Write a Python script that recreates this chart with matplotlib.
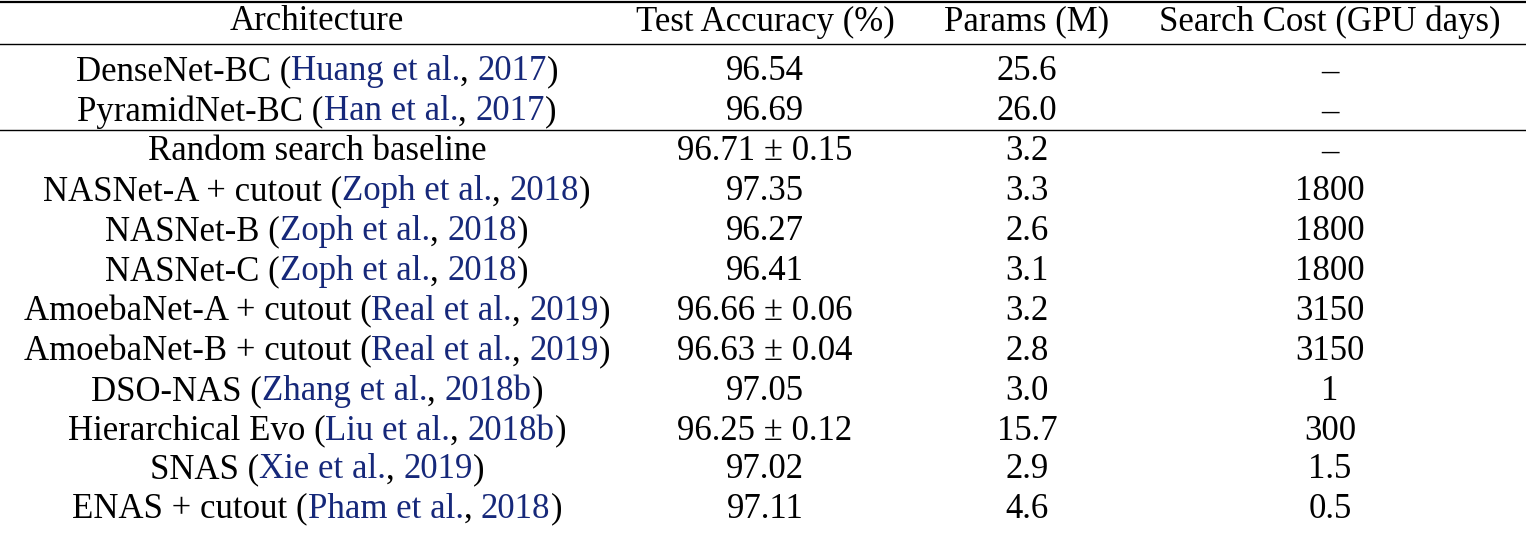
import matplotlib
matplotlib.use("Agg")
import matplotlib.pyplot as plt

headers = ["Architecture", "Test Accuracy (%)", "Params (M)", "Search Cost (GPU days)"]
arch_names = ["DenseNet-BC", "PyramidNet-BC", "Random search baseline", "NASNet-A + cutout",
              "NASNet-B", "NASNet-C", "AmoebaNet-A + cutout", "AmoebaNet-B + cutout",
              "DSO-NAS", "Hierarchical Evo", "SNAS", "ENAS + cutout"]
cite_authors = ["Huang et al.", "Han et al.", None, "Zoph et al.", "Zoph et al.", "Zoph et al.",
                "Real et al.", "Real et al.", "Zhang et al.", "Liu et al.", "Xie et al.", "Pham et al."]
cite_years = ["2017", "2017", None, "2018", "2018", "2018", "2019", "2019", "2018b", "2018b", "2019", "2018"]
accuracy = ["96.54", "96.69", "96.71 ± 0.15", "97.35", "96.27", "96.41", "96.66 ± 0.06",
            "96.63 ± 0.04", "97.05", "96.25 ± 0.12", "97.02", "97.11"]
params = ["25.6", "26.0", "3.2", "3.3", "2.6", "3.1", "3.2", "2.8", "3.0", "15.7", "2.9", "4.6"]
search_cost = ["–", "–", "–", "1800", "1800", "1800", "3150", "3150", "1", "300", "1.5", "0.5"]

W, H = 1526, 541
fig = plt.figure(figsize=(W / 100, H / 100), dpi=100)
ax = fig.add_axes([0, 0, 1, 1])
ax.set_xlim(0, W)
ax.set_ylim(H, 0)
ax.axis("off")

FONT = "Liberation Serif"
FS = 25
BLUE = "#16287a"
col_x = [317, 765, 1027, 1330]
header_y = 22
row_y = [72, 112, 152, 192, 232, 272, 312, 352, 392, 431, 470, 509]

for x, h in zip(col_x, headers):
    ax.text(x, header_y, h, ha="center", va="center", fontsize=FS, family=FONT)

ax.plot([0, W], [2, 2], color="black", lw=1.6)
ax.plot([0, W], [44, 44], color="black", lw=1.0)
ax.plot([0, W], [130, 130], color="black", lw=1.0)

fig.canvas.draw()
renderer = fig.canvas.get_renderer()

def width_px(s):
    t = ax.text(0, 0, s, fontsize=FS, family=FONT)
    bb = t.get_window_extent(renderer)
    t.remove()
    return bb.width

for i, name in enumerate(arch_names):
    y = row_y[i]
    if cite_authors[i] is None:
        ax.text(col_x[0], y, name, ha="center", va="center", fontsize=FS, family=FONT)
    else:
        pieces = [(name + " (", "black"), (cite_authors[i], BLUE), (", ", "black"),
                  (cite_years[i], BLUE), (")", "black")]
        full = "".join(p for p, _ in pieces)
        total = width_px(full)
        x = col_x[0] - total / 2
        acc = ""
        for p, c in pieces:
            ax.text(x + width_px(acc) if acc else x, y, p, ha="left", va="center",
                    fontsize=FS, family=FONT, color=c)
            acc += p
    ax.text(col_x[1], y, accuracy[i], ha="center", va="center", fontsize=FS, family=FONT)
    ax.text(col_x[2], y, params[i], ha="center", va="center", fontsize=FS, family=FONT)
    ax.text(col_x[3], y, search_cost[i], ha="center", va="center", fontsize=FS, family=FONT)

fig.savefig("out.png", dpi=100)
